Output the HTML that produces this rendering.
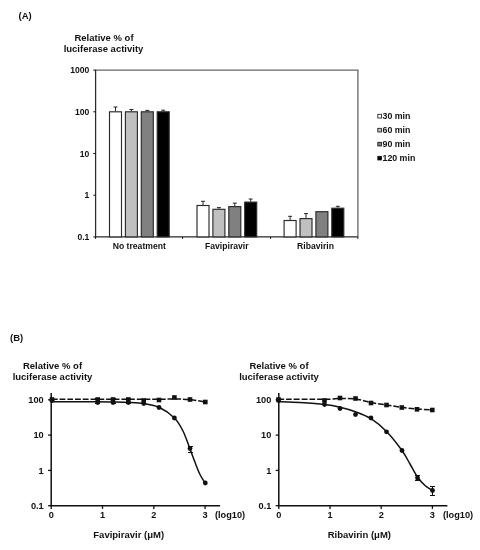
<!DOCTYPE html>
<html lang="en"><head><meta charset="utf-8"><title>Figure</title>
<style>
html,body{margin:0;padding:0;background:#fff;}
body{width:480px;height:550px;overflow:hidden;}
svg{display:block;filter:blur(0.4px);}
text{font-family:"Liberation Sans",sans-serif;font-weight:bold;fill:#111;}
.a{font-size:8.6px;}
.l{font-size:8.8px;}
.t{font-size:9.5px;}
.b{font-size:9.2px;}
</style></head><body>
<svg width="480" height="550" viewBox="0 0 480 550">
<rect width="480" height="550" fill="#fff"/>

<text class="t" x="18.5" y="19.3">(A)</text>
<text class="t" x="104" y="41" text-anchor="middle">Relative % of</text>
<text class="t" x="103.5" y="52.2" text-anchor="middle">luciferase activity</text>
<path d="M95.6 70.1H357.9V236.9" fill="none" stroke="#666" stroke-width="1.3"/>
<path d="M95.6 69.69999999999999V236.9H357.9" fill="none" stroke="#2a2a2a" stroke-width="1.25"/>
<path d="M93.3 70.10H95.6" stroke="#111" stroke-width="1"/>
<text class="a" x="89.4" y="73.20" text-anchor="end">1000</text>
<path d="M93.3 111.80H95.6" stroke="#111" stroke-width="1"/>
<text class="a" x="89.4" y="114.90" text-anchor="end">100</text>
<path d="M93.3 153.50H95.6" stroke="#111" stroke-width="1"/>
<text class="a" x="89.4" y="156.60" text-anchor="end">10</text>
<path d="M93.3 195.20H95.6" stroke="#111" stroke-width="1"/>
<text class="a" x="89.4" y="198.30" text-anchor="end">1</text>
<path d="M93.3 236.90H95.6" stroke="#111" stroke-width="1"/>
<text class="a" x="89.4" y="240.00" text-anchor="end">0.1</text>
<path d="M95.6 236.9V238.9" stroke="#111" stroke-width="1"/>
<path d="M182.6 236.9V238.9" stroke="#111" stroke-width="1"/>
<path d="M270.6 236.9V238.9" stroke="#111" stroke-width="1"/>
<path d="M357.9 236.9V238.9" stroke="#111" stroke-width="1"/>
<path d="M115.50 111.3V107.0M113.50 107.0H117.50" stroke="#111" stroke-width="0.9" fill="none"/>
<rect x="109.50" y="111.80" width="12.00" height="125.10" fill="#fff" stroke="#2a2a2a" stroke-width="1.15"/>
<path d="M131.40 111.3V109.5M129.40 109.5H133.40" stroke="#111" stroke-width="0.9" fill="none"/>
<rect x="125.40" y="111.80" width="12.00" height="125.10" fill="#c0c0c0" stroke="#2a2a2a" stroke-width="1.15"/>
<path d="M147.30 111.3V110.4M145.30 110.4H149.30" stroke="#111" stroke-width="0.9" fill="none"/>
<rect x="141.30" y="111.80" width="12.00" height="125.10" fill="#808080" stroke="#2a2a2a" stroke-width="1.15"/>
<path d="M163.20 111.3V110.2M161.20 110.2H165.20" stroke="#111" stroke-width="0.9" fill="none"/>
<rect x="157.20" y="111.80" width="12.00" height="125.10" fill="#000" stroke="#2a2a2a" stroke-width="1.15"/>
<path d="M203.00 205.0V201.3M201.00 201.3H205.00" stroke="#111" stroke-width="0.9" fill="none"/>
<rect x="197.00" y="205.50" width="12.00" height="31.40" fill="#fff" stroke="#2a2a2a" stroke-width="1.15"/>
<path d="M218.90 208.8V207.6M216.90 207.6H220.90" stroke="#111" stroke-width="0.9" fill="none"/>
<rect x="212.90" y="209.30" width="12.00" height="27.60" fill="#c0c0c0" stroke="#2a2a2a" stroke-width="1.15"/>
<path d="M234.80 206.1V203.1M232.80 203.1H236.80" stroke="#111" stroke-width="0.9" fill="none"/>
<rect x="228.80" y="206.60" width="12.00" height="30.30" fill="#808080" stroke="#2a2a2a" stroke-width="1.15"/>
<path d="M250.70 201.6V199.0M248.70 199.0H252.70" stroke="#111" stroke-width="0.9" fill="none"/>
<rect x="244.70" y="202.10" width="12.00" height="34.80" fill="#000" stroke="#2a2a2a" stroke-width="1.15"/>
<path d="M290.10 220.0V216.3M288.10 216.3H292.10" stroke="#111" stroke-width="0.9" fill="none"/>
<rect x="284.10" y="220.50" width="12.00" height="16.40" fill="#fff" stroke="#2a2a2a" stroke-width="1.15"/>
<path d="M306.00 218.1V213.6M304.00 213.6H308.00" stroke="#111" stroke-width="0.9" fill="none"/>
<rect x="300.00" y="218.60" width="12.00" height="18.30" fill="#c0c0c0" stroke="#2a2a2a" stroke-width="1.15"/>
<rect x="315.90" y="211.70" width="12.00" height="25.20" fill="#808080" stroke="#2a2a2a" stroke-width="1.15"/>
<path d="M337.80 207.7V206.3M335.80 206.3H339.80" stroke="#111" stroke-width="0.9" fill="none"/>
<rect x="331.80" y="208.20" width="12.00" height="28.70" fill="#000" stroke="#2a2a2a" stroke-width="1.15"/>
<text class="a" x="139.3" y="249.2" text-anchor="middle">No treatment</text>
<text class="a" x="226.8" y="249.2" text-anchor="middle">Favipiravir</text>
<text class="a" x="315.5" y="249.2" text-anchor="middle">Ribavirin</text>
<rect x="377.8" y="114.3" width="3.7" height="3.7" fill="#fff" stroke="#111" stroke-width="0.8"/>
<text class="l" x="382.5" y="118.6">30 min</text>
<rect x="377.8" y="128.3" width="3.7" height="3.7" fill="#c0c0c0" stroke="#111" stroke-width="0.8"/>
<text class="l" x="382.5" y="132.6">60 min</text>
<rect x="377.8" y="142.3" width="3.7" height="3.7" fill="#808080" stroke="#111" stroke-width="0.8"/>
<text class="l" x="382.5" y="146.6">90 min</text>
<rect x="377.8" y="156.3" width="3.7" height="3.7" fill="#000" stroke="#111" stroke-width="0.8"/>
<text class="l" x="382.5" y="160.6">120 min</text>
<text class="t" x="10" y="341.2">(B)</text>
<text class="t" x="52.5" y="368.7" text-anchor="middle">Relative % of</text>
<text class="t" x="52.5" y="379.8" text-anchor="middle">luciferase activity</text>
<path d="M51.2 392.9V505.7H220.09999999999997" fill="none" stroke="#111" stroke-width="1.5"/>
<path d="M48.1 399.80H51.2" stroke="#111" stroke-width="1.3"/>
<text class="b" x="43.7" y="403.10" text-anchor="end">100</text>
<path d="M48.1 435.10H51.2" stroke="#111" stroke-width="1.3"/>
<text class="b" x="43.7" y="438.40" text-anchor="end">10</text>
<path d="M48.1 470.40H51.2" stroke="#111" stroke-width="1.3"/>
<text class="b" x="43.7" y="473.70" text-anchor="end">1</text>
<path d="M48.1 505.70H51.2" stroke="#111" stroke-width="1.3"/>
<text class="b" x="43.7" y="509.00" text-anchor="end">0.1</text>
<path d="M51.20 505.7V508.9" stroke="#111" stroke-width="1.3"/>
<text class="b" x="51.20" y="518.1" text-anchor="middle">0</text>
<path d="M102.50 505.7V508.9" stroke="#111" stroke-width="1.3"/>
<text class="b" x="102.50" y="518.1" text-anchor="middle">1</text>
<path d="M153.80 505.7V508.9" stroke="#111" stroke-width="1.3"/>
<text class="b" x="153.80" y="518.1" text-anchor="middle">2</text>
<path d="M205.10 505.7V508.9" stroke="#111" stroke-width="1.3"/>
<text class="b" x="205.10" y="518.1" text-anchor="middle">3</text>
<text class="b" x="215" y="518.1">(log10)</text>
<text class="t" x="128.7" y="538.3" text-anchor="middle">Favipiravir (μM)</text>
<path d="M52 399.3C64.72 399.30 110.47 399.30 128.3 399.3C146.13 399.30 151.32 399.35 159 399.3C166.68 399.25 169.23 398.95 174.4 399C179.57 399.05 184.85 399.10 190 399.6C195.15 400.10 202.75 401.60 205.3 402" fill="none" stroke="#111" stroke-width="1.5" stroke-dasharray="5.8 1.9"/>
<path d="M52 401.7C59.62 401.72 87.53 401.75 97.7 401.8C107.87 401.85 107.90 401.90 113 402C118.10 402.10 123.18 402.13 128.3 402.4C133.42 402.67 138.58 402.78 143.7 403.6C148.82 404.42 153.88 404.90 159 407.3C164.12 409.70 170.40 414.05 174.4 418C178.40 421.95 180.40 425.83 183 431C185.60 436.17 188.00 443.78 190 449C192.00 454.22 193.33 458.05 195 462.3C196.67 466.55 198.28 471.00 200 474.5C201.72 478.00 204.42 481.83 205.3 483.3" fill="none" stroke="#111" stroke-width="1.5"/>
<path d="M97.5 398.5V403.5M95.0 398.5H100.0M95.0 403.5H100.0" stroke="#111" stroke-width="1.1" fill="none"/>
<path d="M113.5 398.5V403.5M111.0 398.5H116.0M111.0 403.5H116.0" stroke="#111" stroke-width="1.1" fill="none"/>
<path d="M128.5 398.5V403.5M126.0 398.5H131.0M126.0 403.5H131.0" stroke="#111" stroke-width="1.1" fill="none"/>
<path d="M190.5 446.5V452.5M188.0 446.5H193.0M188.0 452.5H193.0" stroke="#111" stroke-width="1.1" fill="none"/>
<rect x="49.70" y="397.20" width="4.6" height="4.6" fill="#111"/>
<rect x="95.40" y="397.20" width="4.6" height="4.6" fill="#111"/>
<rect x="110.70" y="397.20" width="4.6" height="4.6" fill="#111"/>
<rect x="126.00" y="397.20" width="4.6" height="4.6" fill="#111"/>
<rect x="141.40" y="398.20" width="4.6" height="4.6" fill="#111"/>
<rect x="156.70" y="397.70" width="4.6" height="4.6" fill="#111"/>
<rect x="172.10" y="395.20" width="4.6" height="4.6" fill="#111"/>
<rect x="187.70" y="397.20" width="4.6" height="4.6" fill="#111"/>
<rect x="203.00" y="399.70" width="4.6" height="4.6" fill="#111"/>
<circle cx="52" cy="400.5" r="2.4" fill="#111"/>
<circle cx="97.7" cy="402.5" r="2.4" fill="#111"/>
<circle cx="113" cy="402.5" r="2.4" fill="#111"/>
<circle cx="128.3" cy="402.5" r="2.4" fill="#111"/>
<circle cx="143.7" cy="403.5" r="2.4" fill="#111"/>
<circle cx="159" cy="407.5" r="2.4" fill="#111"/>
<circle cx="174.4" cy="418" r="2.4" fill="#111"/>
<circle cx="190" cy="448.5" r="2.4" fill="#111"/>
<circle cx="205.3" cy="483" r="2.4" fill="#111"/>
<text class="t" x="279" y="368.7" text-anchor="middle">Relative % of</text>
<text class="t" x="279" y="379.8" text-anchor="middle">luciferase activity</text>
<path d="M278.8 392.9V505.7H447.40000000000003" fill="none" stroke="#111" stroke-width="1.5"/>
<path d="M275.7 399.80H278.8" stroke="#111" stroke-width="1.3"/>
<text class="b" x="271.3" y="403.10" text-anchor="end">100</text>
<path d="M275.7 435.10H278.8" stroke="#111" stroke-width="1.3"/>
<text class="b" x="271.3" y="438.40" text-anchor="end">10</text>
<path d="M275.7 470.40H278.8" stroke="#111" stroke-width="1.3"/>
<text class="b" x="271.3" y="473.70" text-anchor="end">1</text>
<path d="M275.7 505.70H278.8" stroke="#111" stroke-width="1.3"/>
<text class="b" x="271.3" y="509.00" text-anchor="end">0.1</text>
<path d="M278.80 505.7V508.9" stroke="#111" stroke-width="1.3"/>
<text class="b" x="278.80" y="518.1" text-anchor="middle">0</text>
<path d="M330.00 505.7V508.9" stroke="#111" stroke-width="1.3"/>
<text class="b" x="330.00" y="518.1" text-anchor="middle">1</text>
<path d="M381.20 505.7V508.9" stroke="#111" stroke-width="1.3"/>
<text class="b" x="381.20" y="518.1" text-anchor="middle">2</text>
<path d="M432.40 505.7V508.9" stroke="#111" stroke-width="1.3"/>
<text class="b" x="432.40" y="518.1" text-anchor="middle">3</text>
<text class="b" x="443" y="518.1">(log10)</text>
<text class="t" x="359.3" y="538.3" text-anchor="middle">Ribavirin (μM)</text>
<path d="M278.5 399.3C286.17 399.30 314.25 399.43 324.5 399.3C334.75 399.17 334.83 398.55 340 398.5C345.17 398.45 350.33 398.33 355.5 399C360.67 399.67 365.83 401.50 371 402.5C376.17 403.50 381.37 404.20 386.5 405C391.63 405.80 396.72 406.63 401.8 407.3C406.88 407.97 411.92 408.55 417 409C422.08 409.45 429.75 409.83 432.3 410" fill="none" stroke="#111" stroke-width="1.5" stroke-dasharray="5.8 1.9"/>
<path d="M278.5 401.7C282.08 401.85 292.33 402.13 300 402.6C307.67 403.07 317.83 403.73 324.5 404.5C331.17 405.27 334.83 406.00 340 407.2C345.17 408.40 350.33 409.78 355.5 411.7C360.67 413.62 365.83 415.40 371 418.7C376.17 422.00 381.33 426.20 386.5 431.5C391.67 436.80 398.08 445.08 402 450.5C405.92 455.92 407.42 459.58 410 464C412.58 468.42 415.00 473.42 417.5 477C420.00 480.58 422.50 483.25 425 485.5C427.50 487.75 431.25 489.67 432.5 490.5" fill="none" stroke="#111" stroke-width="1.5"/>
<path d="M417.5 475.5V480.5M415.0 475.5H420.0M415.0 480.5H420.0" stroke="#111" stroke-width="1.1" fill="none"/>
<path d="M432.5 486.5V495.5M430.0 486.5H435.0M430.0 495.5H435.0" stroke="#111" stroke-width="1.1" fill="none"/>
<rect x="276.20" y="397.20" width="4.6" height="4.6" fill="#111"/>
<rect x="322.20" y="398.20" width="4.6" height="4.6" fill="#111"/>
<rect x="337.70" y="395.70" width="4.6" height="4.6" fill="#111"/>
<rect x="353.20" y="396.20" width="4.6" height="4.6" fill="#111"/>
<rect x="368.70" y="400.70" width="4.6" height="4.6" fill="#111"/>
<rect x="384.20" y="402.70" width="4.6" height="4.6" fill="#111"/>
<rect x="399.50" y="405.20" width="4.6" height="4.6" fill="#111"/>
<rect x="414.70" y="407.00" width="4.6" height="4.6" fill="#111"/>
<rect x="430.00" y="407.70" width="4.6" height="4.6" fill="#111"/>
<circle cx="278.5" cy="400.5" r="2.4" fill="#111"/>
<circle cx="324.5" cy="404.5" r="2.4" fill="#111"/>
<circle cx="340" cy="408.5" r="2.4" fill="#111"/>
<circle cx="355.5" cy="414.5" r="2.4" fill="#111"/>
<circle cx="371" cy="418" r="2.4" fill="#111"/>
<circle cx="386.5" cy="431.8" r="2.4" fill="#111"/>
<circle cx="402" cy="450.5" r="2.4" fill="#111"/>
<circle cx="417.5" cy="478" r="2.4" fill="#111"/>
<circle cx="432.5" cy="490.5" r="2.4" fill="#111"/>
</svg></body></html>
